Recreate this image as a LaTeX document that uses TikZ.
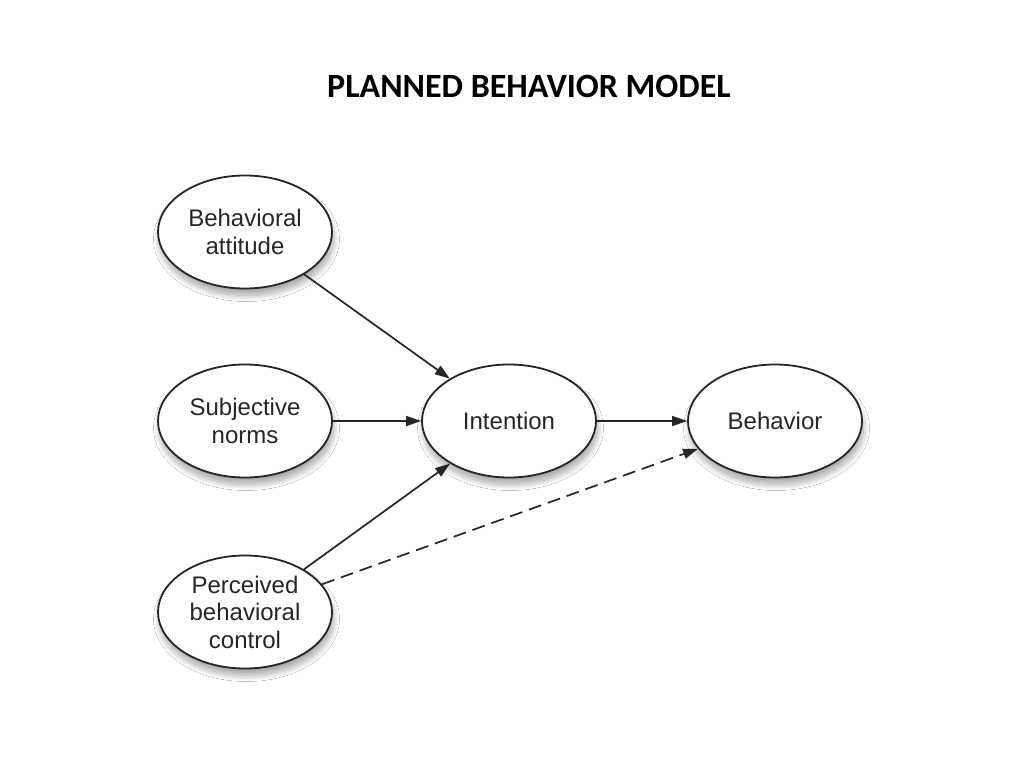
\documentclass[tikz,border=0pt]{standalone}
\usepackage{fontspec}
\setmainfont{Liberation Sans}
\newfontfamily\titlefont{Carlito}
\usetikzlibrary{shapes.geometric,arrows.meta,shadows.blur}
\definecolor{inkgray}{HTML}{262626}
\begin{document}
\begin{tikzpicture}[x=1pt,y=-1pt,
  oval/.style={ellipse,draw=inkgray,line width=1.8pt,fill=white,
    minimum width=174pt,minimum height=113pt,inner sep=0pt,
    align=center,text=inkgray,font=\fontsize{24}{27.5}\selectfont,
    blur shadow={shadow xshift=1.5pt,shadow yshift=-7pt,shadow blur radius=6pt,shadow blur steps=14,shadow opacity=35}},
  link/.style={draw=inkgray,line width=1.7pt,-{Triangle[length=15pt,width=10pt]}},
  dlink/.style={link,dash pattern=on 13pt off 7pt}]
\useasboundingbox (0,0) rectangle (1024,768);
\fill[white] (0,0) rectangle (1024,768);
\node[anchor=base,font=\titlefont\bfseries\fontsize{34}{38}\selectfont] (title) at (529,97) {PLANNED BEHAVIOR MODEL};
\node[oval] (att) at (245,232) {Behavioral\\attitude};
\node[oval] (norm) at (245,421) {Subjective\\norms};
\node[oval] (ctrl) at (245,612) {Perceived\\behavioral\\control};
\node[oval] (int) at (509,421) {Intention};
\node[oval] (beh) at (775,421) {Behavior};
\draw[link] (att) -- (int);
\draw[link] (norm) -- (int);
\draw[link] (ctrl) -- (int);
\draw[link] (int) -- (beh);
\draw[dlink] (ctrl) -- (beh);
\end{tikzpicture}
\end{document}
